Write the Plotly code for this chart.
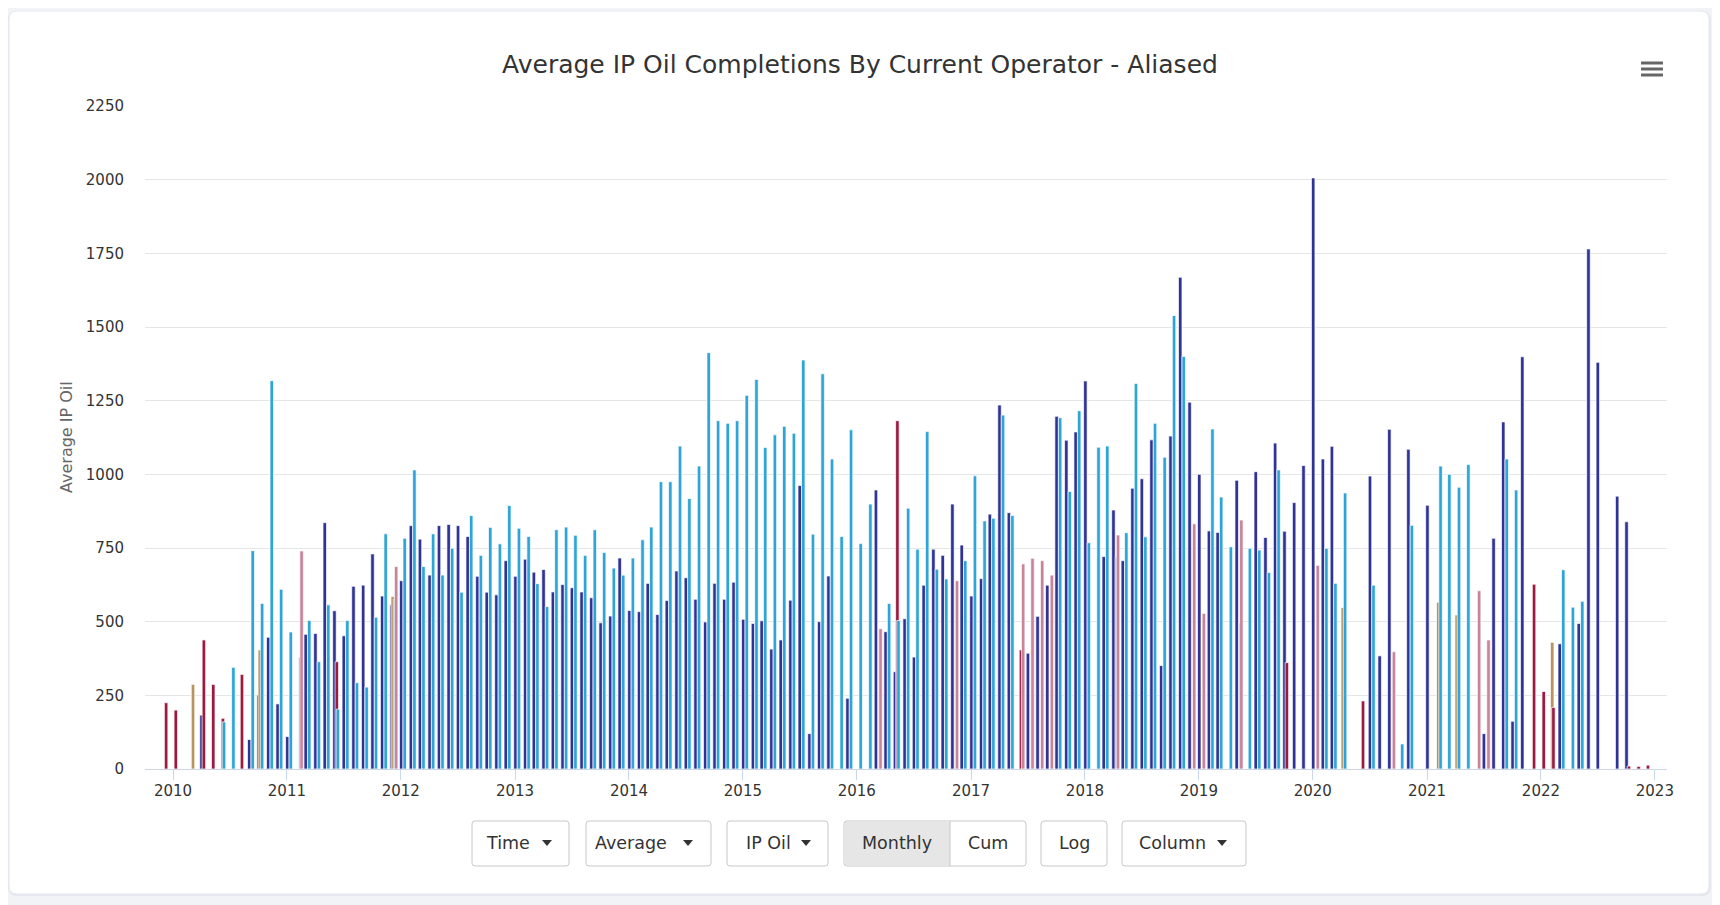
import datetime as dt
import plotly.graph_objects as go

# ---------------- data ----------------
months = [f"{y}-{m:02d}-01" for y in range(2009, 2023) for m in range(1, 13)][11:]  # 2009-12 .. 2022-12

navy_values = [None] + [
    None, None, None, 183, None, None, None, None, 100, 251, 447, 221,      # 2010
    110, None, 457, 460, 836, 537, 452, 620, 624, 730, 587, 557,            # 2011
    639, 826, 780, 658, 826, 830, 826, 789, 654, 600, 591, 707,             # 2012
    654, 712, 668, 677, 601, 626, 615, 601, 581, 496, 519, 716,             # 2013
    538, 534, 630, 524, 572, 672, 649, 576, 499, 630, 576, 634,             # 2014
    508, 494, 503, 407, 438, 573, 962, 120, 500, 655, None, 240,            # 2015
    None, None, 947, 466, 330, 510, 380, 624, 746, 725, 899, 760,           # 2016
    587, 646, 865, 1235, 870, None, 393, 518, 624, 1197, 1116, 1144,        # 2017
    1317, None, 721, 879, 707, 953, 985, 1117, 351, 1130, 1669, 1245,       # 2018
    1000, 808, 803, None, 980, None, 1009, 786, 1106, 807, 904, 1030,       # 2019
    2006, 1052, 1095, None, None, None, 994, 384, 1153, None, 1085, None,   # 2020
    895, None, None, None, None, None, 120, 783, 1178, 162, 1399, None,     # 2021
    None, None, 425, None, 494, 1765, 1380, None, 926, 839, None, None,     # 2022
]

lightblue_values = [None] + [
    None, None, None, None, None, 160, 345, None, 741, 562, 1318, 610,      # 2010
    465, 379, 504, 364, 557, 203, 504, 293, 278, 515, 798, 576,             # 2011
    783, 1015, 687, 798, 658, 749, 600, 860, 725, 820, 764, 894,            # 2012
    817, 789, 629, 551, 812, 821, 793, 725, 812, 735, 682, 658,             # 2013
    716, 778, 821, 975, 975, 1096, 918, 1028, 1413, 1182, 1173, 1182,       # 2014
    1268, 1322, 1091, 1134, 1163, 1139, 1388, 797, 1341, 1052, 789, 1151,   # 2015
    765, 899, None, 562, 504, 885, 746, 1145, 678, 645, None, 707,          # 2016
    995, 842, 851, 1201, 860, None, None, None, None, 1192, 942, 1216,      # 2017
    768, 1092, 1096, 721, 802, 1308, 788, 1173, 1058, 1539, 1400, None,     # 2018
    None, 1154, 923, 754, 496, 749, 743, 667, 1015, None, None, None,       # 2019
    None, 749, 630, 937, None, None, 624, None, None, 85, 827, None,        # 2020
    None, 1028, 1000, 956, 1033, None, None, None, 1052, 947, None, None,   # 2021
    None, None, 676, 549, 569, None, None, None, None, None, None, None,    # 2022
]

tan_months = ["2010-03-01", "2010-10-01", "2011-12-01", "2020-04-01",
              "2021-02-01", "2021-04-01", "2022-02-01"]
tan_values = [287, 404, 585, 548, 566, 523, 430]

darkred_months = ["2009-12-01", "2010-01-01", "2010-04-01", "2010-05-01", "2010-06-01",
                  "2010-08-01", "2011-06-01", "2016-05-01", "2017-06-01", "2019-10-01",
                  "2020-06-01", "2021-12-01", "2022-01-01", "2022-02-01", "2022-10-01",
                  "2022-11-01", "2022-12-01"]
darkred_values = [225, 200, 438, 287, 172, 321, 364, 1182, 404, 361, 231, 627, 263, 209, 10, 9, 13]

pink_months = ["2011-02-01", "2011-12-01", "2016-03-01", "2016-11-01", "2017-06-01",
               "2017-07-01", "2017-08-01", "2017-09-01", "2018-04-01", "2018-12-01",
               "2019-01-01", "2019-05-01", "2020-01-01", "2020-09-01", "2021-06-01",
               "2021-07-01"]
pink_values = [740, 687, 476, 639, 696, 715, 707, 658, 794, 832, 528, 845, 691, 398, 605, 438]

year_ticks = [f"{y}-01-01" for y in range(2010, 2024)]
year_labels = [str(y) for y in range(2010, 2024)]
y_ticks = [0, 250, 500, 750, 1000, 1250, 1500, 1750, 2000, 2250]

# ---------------- geometry (figure coords; page body adds an 8px margin) ----------------
OFF = 8
W, H = 1712, 897
L, R, T, B = 145 - OFF, 1667 - OFF, 106 - OFF, 769 - OFF
PX_PER_DAY = 0.3121
X0 = dt.datetime(2010, 1, 1)
X0_PX = 173.0 - OFF
MS_PER_PX = 86400000.0 / PX_PER_DAY
x_start = X0 + dt.timedelta(days=(L - X0_PX) / PX_PER_DAY)
x_end = X0 + dt.timedelta(days=(R - X0_PX) / PX_PER_DAY)
BAR_W_PX = 3.5

FONT = "DejaVu Sans"
TXT = "#333333"


def px_x(px):
    # px given in page coordinates
    return (px - OFF - L) / (R - L)


def px_y(py):
    return (B - (py - OFF)) / (B - T)


def rpath(x0, y0, x1, y1, r=(4, 4, 4, 4)):
    """rounded rect (page px) -> paper path. r = (tl, tr, br, bl)"""
    tl, tr, br, bl = r

    def P(x, y):
        return f"{px_x(x):.6f},{px_y(y):.6f}"

    s = f"M{P(x0 + tl, y0)} L{P(x1 - tr, y0)} Q{P(x1, y0)} {P(x1, y0 + tr)} "
    s += f"L{P(x1, y1 - br)} Q{P(x1, y1)} {P(x1 - br, y1)} "
    s += f"L{P(x0 + bl, y1)} Q{P(x0, y1)} {P(x0, y1 - bl)} "
    s += f"L{P(x0, y0 + tl)} Q{P(x0, y0)} {P(x0 + tl, y0)} Z"
    return s


fig = go.Figure()

series = [
    ("Navy", months, navy_values, "#2f3296", 0.4),
    ("Tan", tan_months, tan_values, "#b8925f", 1.6),
    ("Dark red", darkred_months, darkred_values, "#9c1a3f", 2.8),
    ("Light blue", months, lightblue_values, "#2ea5d6", 3.9),
    ("Pink", pink_months, pink_values, "#c9849a", 5.0),
]
for name, xs, ys, col, center in series:
    fig.add_trace(go.Bar(
        name=name, x=xs, y=ys,
        width=BAR_W_PX * MS_PER_PX,
        offset=(center - BAR_W_PX / 2) * MS_PER_PX,
        marker=dict(color=col, line=dict(color="white", width=0.7)),
    ))

shapes = []
# card shadow + card
shapes.append(dict(type="path", xref="paper", yref="paper", layer="below",
                   path=rpath(8, 11, 1711, 896, (9, 9, 9, 9)),
                   fillcolor="rgba(20,40,80,0.05)", line=dict(width=0)))
shapes.append(dict(type="path", xref="paper", yref="paper", layer="below",
                   path=rpath(9, 11, 1709, 894, (8, 8, 8, 8)),
                   fillcolor="white", line=dict(color="#e4e8ee", width=1)))

# hamburger menu
for yy in (63, 69, 75):
    shapes.append(dict(type="line", xref="paper", yref="paper",
                       x0=px_x(1641), x1=px_x(1663), y0=px_y(yy), y1=px_y(yy),
                       line=dict(color="#666666", width=3)))

annotations = []
BY0, BY1 = 821, 866
BCY = 843
BFS = 17.5
buttons = [
    ("Time", 472, 569, 508, 547),
    ("Average", 586, 711, 631, 688),
    ("IP Oil", 727, 828, 768, 806),
    ("Log", 1041, 1107, 1074, None),
    ("Column", 1122, 1246, 1172, 1222),
]
for label, bx0, bx1, tx, cx in buttons:
    shapes.append(dict(type="path", xref="paper", yref="paper",
                       path=rpath(bx0, BY0, bx1, BY1, (3, 3, 3, 3)),
                       fillcolor="white", line=dict(color="#c8c8c8", width=1)))
    annotations.append(dict(text=label, x=px_x(tx), y=px_y(BCY), xref="paper", yref="paper",
                            showarrow=False, xanchor="center", yanchor="middle",
                            font=dict(family=FONT, size=BFS, color=TXT)))
    if cx is not None:
        p = (f"M{px_x(cx - 5):.6f},{px_y(BCY - 3):.6f} L{px_x(cx + 5):.6f},{px_y(BCY - 3):.6f} "
             f"L{px_x(cx):.6f},{px_y(BCY + 3):.6f} Z")
        shapes.append(dict(type="path", xref="paper", yref="paper", path=p,
                           fillcolor=TXT, line=dict(width=0)))

# Monthly / Cum toggle group
shapes.append(dict(type="path", xref="paper", yref="paper",
                   path=rpath(844, BY0, 1026, BY1, (3, 3, 3, 3)),
                   fillcolor="white", line=dict(color="#c8c8c8", width=1)))
shapes.append(dict(type="path", xref="paper", yref="paper",
                   path=rpath(844.5, BY0 + 0.5, 950, BY1 - 0.5, (3, 0, 0, 3)),
                   fillcolor="#e6e6e6", line=dict(width=0)))
shapes.append(dict(type="line", xref="paper", yref="paper",
                   x0=px_x(950), x1=px_x(950), y0=px_y(BY0), y1=px_y(BY1),
                   line=dict(color="#c8c8c8", width=1)))
for label, tx in (("Monthly", 897), ("Cum", 988)):
    annotations.append(dict(text=label, x=px_x(tx), y=px_y(BCY), xref="paper", yref="paper",
                            showarrow=False, xanchor="center", yanchor="middle",
                            font=dict(family=FONT, size=BFS, color=TXT)))

# y-axis title
annotations.append(dict(text="Average IP Oil", x=px_x(66), y=px_y(437), xref="paper", yref="paper",
                        showarrow=False, textangle=-90, xanchor="center", yanchor="middle",
                        font=dict(family=FONT, size=16, color="#666666")))

fig.update_layout(
    width=W, height=H,
    margin=dict(l=L, r=W - R, t=T, b=H - B, pad=0),
    paper_bgcolor="#f1f3f7",
    plot_bgcolor="rgba(0,0,0,0)",
    barmode="overlay",
    showlegend=False,
    title=dict(text="Average IP Oil Completions By Current Operator - Aliased",
               x=(860 - OFF) / W, xref="container", xanchor="center",
               y=1 - (64 - OFF) / H, yref="container", yanchor="middle",
               font=dict(family=FONT, size=25, color=TXT)),
    xaxis=dict(type="date", range=[x_start, x_end],
               tickvals=year_ticks, ticktext=year_labels,
               ticks="outside", ticklen=10, tickcolor="#ccd6eb", tickwidth=1,
               showline=True, linecolor="#ccd6eb", linewidth=1,
               showgrid=False, zeroline=False,
               ticklabelstandoff=-2,
               tickfont=dict(family=FONT, size=15, color=TXT)),
    yaxis=dict(range=[0, 2250], tickvals=y_ticks,
               showgrid=True, gridcolor="#e6e6e6", gridwidth=1,
               zeroline=False, showline=False, ticks="",
               ticklabelstandoff=20,
               tickfont=dict(family=FONT, size=15, color=TXT)),
    shapes=shapes,
    annotations=annotations,
)

fig.write_html("out.html")
